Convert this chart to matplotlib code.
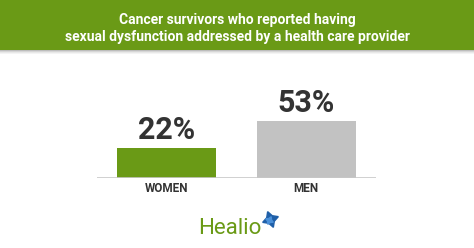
import matplotlib.pyplot as plt
import matplotlib.patches as mpatches

# data
categories = ["WOMEN", "MEN"]
values = [22, 53]
labels = ["22%", "53%"]
bar_colors = ["#6a9a16", "#c2c2c2"]

title = "Cancer survivors who reported having\nsexual dysfunction addressed by a health care provider"

W, H = 474, 248
fig = plt.figure(figsize=(W / 100, H / 100), dpi=100, facecolor="white")

# header band
hdr = fig.add_axes([0, 0, 1, 1])
hdr.set_xlim(0, W)
hdr.set_ylim(H, 0)
hdr.set_axis_off()
hdr.add_patch(mpatches.Rectangle((0, 0), W, 50, facecolor="#6a9a16", edgecolor="none"))
for i, c in enumerate(["#bdbdbd", "#d6d6d6", "#e8e8e8", "#f4f4f4"]):
    hdr.add_patch(mpatches.Rectangle((0, 50 + i), W, 1, facecolor=c, edgecolor="none"))
hdr.text(W / 2, 28.5, title, ha="center", va="center", color="white",
         fontsize=10, fontweight="bold", family="Roboto", linespacing=1.3)

# bar chart: baseline at y=178 px, plot area x 97..376
x0, x1 = 97, 376
base_y, top_y = 178, 60
ax = fig.add_axes([x0 / W, 1 - base_y / H, (x1 - x0) / W, (base_y - top_y) / H])
ax.set_xlim(-0.5, 1.5)
ax.set_ylim(-12.4, -12.4 + (base_y - top_y) / 0.872)
ax.bar([0, 1], [v + 12.4 for v in values], bottom=-12.4, width=0.71,
       color=bar_colors, zorder=2)
ax.axhline(-12.4, color="#c8c8c8", lw=1.2, zorder=3)
for i, (v, lb) in enumerate(zip(values, labels)):
    ax.text(i, v + 3, lb, ha="center", va="bottom", fontsize=22,
            fontweight="bold", color="#333333", family="Roboto")
ax.set_axis_off()
ax.patch.set_alpha(0)

for i, c in enumerate(categories):
    hdr.text(x0 + (x1 - x0) * (i + 0.5) / 2, 189, c, ha="center", va="center",
             fontsize=8.5, fontweight="bold", color="#333333", family="Roboto")

# logo
hdr.text(230, 228, "Healio", ha="center", va="center", fontsize=16,
         color="#6a9a16", family="Roboto")
hdr.plot([270], [219], marker=(4, 1, 20), markersize=12, color="#1f5fa8")
hdr.plot([269], [220], marker=(4, 1, 65), markersize=6, color="#4a90d9")

fig.savefig("out.png", dpi=100, facecolor="white")
